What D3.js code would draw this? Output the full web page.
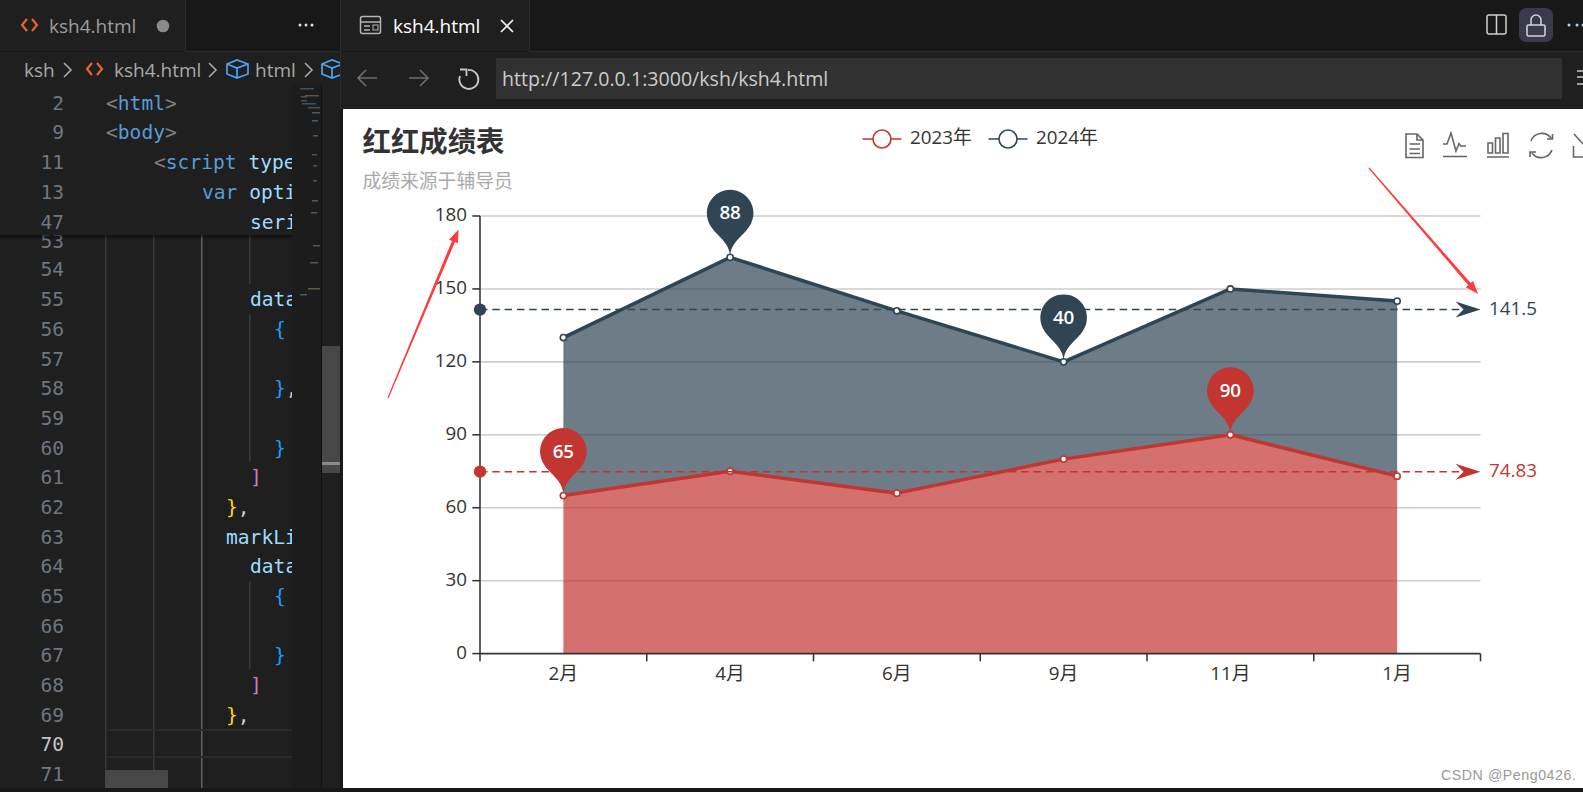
<!DOCTYPE html>
<html><head><meta charset="utf-8">
<script src="https://cdn.jsdelivr.net/npm/d3@7"></script>
<style>html,body{margin:0;padding:0;background:#181818;overflow:hidden}svg{display:block}
.zh{font-family:"Open Sans","Noto Sans CJK SC",sans-serif}
.ui{font-family:"Open Sans","Noto Sans",sans-serif}
.code{font-family:"DejaVu Sans Mono",monospace}
</style></head><body><svg id="c" width="1583" height="792"></svg>
<script>
const categories = ["2月","4月","6月","9月","11月","1月"];
const seriesNames = ["2023年","2024年"];
const values2023 = [65,75,66,80,90,73];
const values2024 = [65,88,75,40,60,72];
const colors = ["#c23531","#2f4554"];
const yTicks = [0,30,60,90,120,150,180];
const chartTitle = "红红成绩表", chartSubtitle = "成绩来源于辅导员";
const lineNumbers = [[2,103],[9,132],[11,162],[13,192],[47,222],[53,241],[54,269],[55,299],[56,329],[57,359],[58,388],[59,418],[60,448],[61,477],[62,507],[63,537],[64,566],[65,596],[66,626],[67,655],[68,685],[69,715],[70,744],[71,774]];

const svg = d3.select("#c");
const rect=(g,x,y,w,h,f)=>g.append("rect").attr("x",x).attr("y",y).attr("width",w).attr("height",h).attr("fill",f);
const text=(g,x,y,s,o={})=>{const t=g.append("text").attr("x",x).attr("y",y).attr("dy","0.35em").text(s)
 .attr("class",o.cls||"zh").attr("font-size",o.size||18.8).attr("fill",o.fill||"#333");
 if(o.anchor)t.attr("text-anchor",o.anchor); if(o.weight)t.attr("font-weight",o.weight); return t;};
const ln=(g,d,c,w)=>g.append("path").attr("d",d).attr("fill","none").attr("stroke",c).attr("stroke-width",w||1.5);

/* ---------- editor chrome ---------- */
const ed = svg.append("g");
rect(ed,0,0,1583,792,"#181818");
rect(ed,0,52,340,740,"#1f1f1f");
rect(ed,0,0,185,51,"#1f1f1f");
ed.append("defs").html('<clipPath id="codeClip"><rect x="0" y="0" width="292" height="792"/></clipPath><linearGradient id="sh" x1="0" y1="0" x2="0" y2="1"><stop offset="0" stop-color="#000" stop-opacity=".5"/><stop offset="1" stop-color="#000" stop-opacity="0"/></linearGradient>');
const codeG = ed.append("g").attr("clip-path","url(#codeClip)");
[[105.7,235,788],[153.7,235,788],[201.7,235,788]].forEach(([x,a,b],i)=>rect(codeG,x-.5,a,1.2,b-a,i==2?"#707070":"#404040"));
[[235,284],[314,462],[581,669]].forEach(([a,b])=>rect(codeG,249.2,a,1.2,b-a,"#404040"));
rect(codeG,107,729,185,2,"#2a2a2a"); rect(codeG,107,756,185,2,"#2a2a2a");
rect(codeG,105,770,63,18,"#474747");
const C={t:"#808080",k:"#569cd6",v:"#9cdcfe",b:"#179fff",p:"#da70d6",g:"#ffd700",w:"#cccccc"};
const code=(x,y,runs)=>{const t=codeG.append("text").attr("class","code").attr("x",x).attr("y",y).attr("dy","0.35em").attr("font-size",19.6);
 runs.forEach(([s,c])=>t.append("tspan").attr("fill",C[c]).text(s));};
const L=n=>lineNumbers.find(d=>d[0]==n)[1];
code(250,L(55),[["data","v"]]);
code(274,L(56),[["{","b"]]);code(274,L(58),[["}","b"],[",","w"]]);code(274,L(60),[["}","b"]]);
code(250,L(61),[["]","p"]]);code(226,L(62),[["}","g"],[",","w"]]);
code(226,L(63),[["markLi","v"]]);code(250,L(64),[["data","v"]]);
code(274,L(65),[["{","b"]]);code(274,L(67),[["}","b"]]);code(250,L(68),[["]","p"]]);code(226,L(69),[["}","g"],[",","w"]]);
lineNumbers.filter(d=>d[0]>=53).forEach(([n,y])=>text(codeG,64,y,n,{cls:"code",size:19.6,anchor:"end",fill:n==70?"#c6c6c6":"#6e7681"}));
rect(ed,0,88,292,147,"#1f1f1f");
rect(ed,0,235,292,5,"url(#sh)");
const sticky = ed.append("g").attr("clip-path","url(#codeClip)");
const codeS=(x,y,runs)=>{const t=sticky.append("text").attr("class","code").attr("x",x).attr("y",y).attr("dy","0.35em").attr("font-size",19.6);
 runs.forEach(([s,c])=>t.append("tspan").attr("fill",C[c]).text(s));};
codeS(106,L(2),[["<","t"],["html","k"],[">","t"]]);
codeS(106,L(9),[["<","t"],["body","k"],[">","t"]]);
codeS(154,L(11),[["<","t"],["script","k"],[" ","w"],["type","v"]]);
codeS(202,L(13),[["var","k"],[" ","w"],["opti","v"]]);
codeS(250,L(47),[["seri","v"]]);
lineNumbers.filter(d=>d[0]<53).forEach(([n,y])=>text(sticky,64,y,n,{cls:"code",size:19.6,anchor:"end",fill:"#6e7681"}));
rect(ed,292,85,29,707,"#1c1c1c");
rect(ed,321,85,1,707,"#111");
rect(ed,322,346,18,127,"#474747"); rect(ed,322,462,18,3,"#8a8a8a");
[[300,88,14,"#5f7f99"],[301,96,6,"#5f7f99"],[301,100,6,"#5f7f99"],[305,95,14,"#8a7f70"],[302,103,14,"#5f7f99"],[308,107,12,"#5f7f99"],[312,112,8,"#6f8faa"],[312,120,6,"#6f8faa"],[313,135,5,"#6f8faa"],[312,154,5,"#6f8faa"],[313,165,4,"#6f8faa"],[313,180,4,"#6f8faa"],[312,200,6,"#6f8faa"],[311,212,6,"#6f8faa"],[313,245,7,"#6f8faa"],[310,262,8,"#6f8faa"],[308,288,12,"#7f9970"],[300,294,7,"#6f8faa"]].forEach(([x,y,w,c])=>rect(ed,x,y,w,1.5,c).attr("opacity",.55));
const orange="#e8652c";
const angle=(g,x,y)=>ln(g,`M${x+5},${y-6}L${x},${y}L${x+5},${y+6}M${x+10},${y-6}L${x+15},${y}L${x+10},${y+6}`,orange,2.2);
angle(ed,22,25);
text(ed,49,26,"ksh4.html",{cls:"ui",size:19,fill:"#9d9d9d"});
ed.append("circle").attr("cx",163).attr("cy",26).attr("r",6.3).attr("fill","#8a8a8a");
[300,306,312].forEach(x=>ed.append("circle").attr("cx",x).attr("cy",25).attr("r",1.5).attr("fill","#e0e0e0"));
rect(ed,185,0,1,52,"#2b2b2b"); rect(ed,185,51,155,1,"#2b2b2b");
text(ed,24,70,"ksh",{cls:"ui",size:19,fill:"#a9a9a9"});
const chev=(x)=>ln(ed,`M${x},63L${x+7},70L${x},77`,"#a9a9a9",1.6);
chev(64);angle(ed,87,69);text(ed,114,70,"ksh4.html",{cls:"ui",size:19,fill:"#a9a9a9"});chev(209);
const cube=(x)=>ln(ed,`M${x},64L${x+10},60L${x+21},64V74L${x+10},78L${x},74ZM${x},64L${x+10},68L${x+21},64M${x+10},68V78`,"#4aa5f0",1.7);
cube(227);text(ed,255,70,"html",{cls:"ui",size:19,fill:"#a9a9a9"});chev(305);cube(322);
rect(ed,340,0,1243,109,"#181818");
rect(ed,340,0,1,109,"#2b2b2b");
rect(ed,341,0,188,51,"#1f1f1f");
rect(ed,529,0,1,52,"#2b2b2b"); rect(ed,529,51,1054,1,"#2b2b2b");
rect(ed,341,52,1242,57,"#1f1f1f");
ed.append("rect").attr("x",360.5).attr("y",16.5).attr("width",20).attr("height",17).attr("rx",2).attr("fill","none").attr("stroke","#b5b5b5").attr("stroke-width",1.5);
ln(ed,"M361,22H380M364,26H370M364,30H370","#b5b5b5",1.3);ed.append("rect").attr("x",373).attr("y",25).attr("width",5).attr("height",5).attr("fill","none").attr("stroke","#b5b5b5");
text(ed,393,26,"ksh4.html",{cls:"ui",size:19,fill:"#ffffff"});
ln(ed,"M501,20L513,32M513,20L501,32","#f0f0f0",1.7);
ln(ed,"M377,78H358M366,70L358,78L366,86","#6f6f6f",1.6);
ln(ed,"M409,78H428M420,70L428,78L420,86","#6f6f6f",1.6);
ln(ed,"M468,70A9.500,9.500 0 1 1 460,76","#c8c8c8",1.8);ln(ed,"M460,69.500H466.500V76","#c8c8c8",1.8);
rect(ed,496,58,1066,41,"#313131");
text(ed,502,79,"http://127.0.0.1:3000/ksh/ksh4.html",{cls:"ui",size:19.6,fill:"#cccccc"});
ln(ed,"M1577,71H1583M1577,77H1583M1577,84H1583","#cccccc",1.6);
ed.append("rect").attr("x",1487).attr("y",15).attr("width",19).attr("height",19).attr("rx",2).attr("fill","none").attr("stroke","#d0d0d0").attr("stroke-width",1.5);
ln(ed,"M1496.5,15V34","#d0d0d0",1.5);
ed.append("rect").attr("x",1519).attr("y",8).attr("width",34).attr("height",34).attr("rx",7).attr("fill","#3a3a4c");
ed.append("rect").attr("x",1527).attr("y",25).attr("width",18).attr("height",11).attr("rx",1.5).attr("fill","none").attr("stroke","#d5d5d5").attr("stroke-width",1.5);
ln(ed,"M1531,25V20A5,5 0 0 1 1541,20V25","#d5d5d5",1.5);
[1569,1577,1583].forEach(x=>ed.append("circle").attr("cx",x).attr("cy",25).attr("r",1.5).attr("fill","#b9d4ea"));

/* ---------- chart page ---------- */
const page = svg.append("g");
rect(page,343,109,1240,679,"#ffffff");
const s=1.55;
const x=d3.scaleBand().domain(categories).range([480,1480.5]);
const y=d3.scaleLinear().domain([0,180]).range([653.6,216]);
const cx=c=>x(c)+x.bandwidth()/2;
const table=categories.map((c,i)=>({c,a:values2023[i],b:values2024[i]}));
const stacked=d3.stack().keys(["a","b"])(table);
const [bandA,bandB]=stacked;
const [x0,x1]=x.range();

text(page,362.5,142,chartTitle,{size:28.4,weight:700,fill:"#333"});
text(page,362.5,181,chartSubtitle,{size:18.8,fill:"#aaa"});

const lg=[[862.5,seriesNames[0],colors[0]],[988.5,seriesNames[1],colors[1]]];
lg.forEach(([lx,n,c])=>{ln(page,`M${lx},139H${lx+39}`,c,1.6);
 page.append("circle").attr("cx",lx+19.5).attr("cy",139).attr("r",9).attr("fill","#fff").attr("stroke",c).attr("stroke-width",1.6);
 text(page,lx+47.5,137.5,n,{fill:"#333"});});

const tb=page.append("g").attr("fill","none").attr("stroke","#666").attr("stroke-width",1.6);
tb.append("path").attr("d","M1406,134H1417L1423,140V157.5H1406ZM1417,134V140H1423M1409.5,144H1420M1409.5,149H1420M1409.5,153.500H1420");
tb.append("path").attr("d","M1443,144H1447L1451,133L1456,151L1459,143.500L1461,146H1466M1443,156.500H1467");
tb.append("path").attr("d","M1488,143H1492.500V153H1488ZM1495.500,138H1500V153H1495.500ZM1503,133.500H1508V153H1503ZM1487,157H1509");
tb.append("path").attr("d","M1531,141A11.500,11.500 0 0 1 1551,138M1552,150A11.500,11.500 0 0 1 1532,153M1547,139L1552.500,139L1552.500,134M1536,152L1530,152L1530,157");
tb.append("path").attr("d","M1574,134L1585,146M1573.500,146V157H1583");

const grid=page.append("g");
grid.selectAll("line").data(yTicks.filter(t=>t>0)).join("line")
 .attr("x1",x0).attr("x2",x1).attr("y1",d=>y(d)).attr("y2",d=>y(d)).attr("stroke","#ccc").attr("stroke-width",s);

const area=d3.area().x(d=>cx(d.data.c)).y0(d=>y(d[0])).y1(d=>y(d[1]));
const line=d3.line().x(d=>cx(d.data.c)).y(d=>y(d[1]));
[[bandB,colors[1]],[bandA,colors[0]]].forEach(([v,c])=>{
 page.append("path").attr("d",area(v)).attr("fill",c).attr("fill-opacity",.7);
});

const axis=page.append("g").attr("stroke","#333").attr("stroke-width",s).attr("fill","none");
axis.append("path").attr("d",`M${x0},${y(0)}H${x1}`);
axis.append("path").attr("d",`M${x0},${y(180)}V${y(0)}`);
yTicks.forEach(t=>{axis.append("path").attr("d",`M${x0},${y(t)}h-7.700`);
 text(page,467,y(t)-1.5,t,{anchor:"end",fill:"#333"});});
categories.forEach((c,i)=>{axis.append("path").attr("d",`M${x(c)},${y(0)}v7.700`);
 text(page,cx(c),673,c,{anchor:"middle",fill:"#333"});});
axis.append("path").attr("d",`M${x1},${y(0)}v7.700`);

[[bandB,colors[1]],[bandA,colors[0]]].forEach(([v,c])=>{
 page.append("path").attr("d",line(v)).attr("fill","none").attr("stroke",c).attr("stroke-width",3.5).attr("stroke-linejoin","round");
 page.selectAll(null).data(v).join("circle").attr("cx",d=>cx(d.data.c)).attr("cy",d=>y(d[1]))
  .attr("r",3.1).attr("fill","#fff").attr("stroke",c).attr("stroke-width",1.6);
});

[[bandB,colors[1]],[bandA,colors[0]]].forEach(([v,c])=>{
 const m=d3.mean(v,d=>d[1]),yy=y(m);
 page.append("line").attr("x1",x0).attr("x2",x1-16).attr("y1",yy).attr("y2",yy).attr("stroke",c).attr("stroke-width",1.55).attr("stroke-dasharray","7.500 4.800");
 page.append("circle").attr("cx",x0).attr("cy",yy).attr("r",6.2).attr("fill",c);
 page.append("path").attr("d",`M${x1-25},${yy-8}L${x1},${yy}L${x1-25},${yy+8}L${x1-17},${yy}Z`).attr("fill",c);
 text(page,x1+8.5,yy-1.5,+m.toFixed(2),{fill:c});
});

function pinPath(px,py,r,h){const dy=r*r/(h-r),cy=py-h+r+dy,a=Math.asin(dy/r),dx=Math.cos(a)*r,tx=Math.sin(a),ty=Math.cos(a),c1=r*.6,c2=r*.7;
 const p=d3.path();p.moveTo(px-dx,cy+dy);p.arc(px,cy,r,Math.PI-a,2*Math.PI+a);
 p.bezierCurveTo(px+dx-tx*c1,cy+dy+ty*c1,px,py-c2,px,py);p.bezierCurveTo(px,py-c2,px-dx+tx*c1,cy+dy+ty*c1,px-dx,cy+dy);p.closePath();return p.toString();}
[[bandB,colors[1]],[bandA,colors[0]]].forEach(([v,c])=>{
 [d3.greatest(v,d=>d[1]-d[0]),d3.least(v,d=>d[1]-d[0])].forEach(d=>{
  const px=cx(d.data.c),py=y(d[1]);
  page.append("path").attr("d",pinPath(px,py,23.3,77.5)).attr("fill",c);
  text(page,px,py-44.5,d[1]-d[0],{anchor:"middle",fill:"#fff",weight:600});
 });
});

function arrow(ax0,ay0,ax1,ay1){const a=Math.atan2(ay1-ay0,ax1-ax0),ux=Math.cos(a),uy=Math.sin(a),nx=-uy,ny=ux;
 const b=[ax1-ux*13,ay1-uy*13];
 const pts=[[ax0+nx*.6,ay0+ny*.6],[b[0]+nx*1.6,b[1]+ny*1.6],[b[0]+nx*4.8,b[1]+ny*4.8],[ax1,ay1],[b[0]-nx*4.8,b[1]-ny*4.8],[b[0]-nx*1.6,b[1]-ny*1.6],[ax0-nx*.6,ay0-ny*.6]];
 page.append("polygon").attr("points",pts.join(" ")).attr("fill","#ff3b3b");}
arrow(388,398,458.500,229.500);
arrow(1369,168,1478,294);

text(page,1441,775,"CSDN @Peng0426.",{cls:"x",size:14.2,fill:"#999"}).attr("font-family","Liberation Sans").attr("letter-spacing",".55");
rect(page,0,788,1583,4,"#181818");
</script></body></html>
